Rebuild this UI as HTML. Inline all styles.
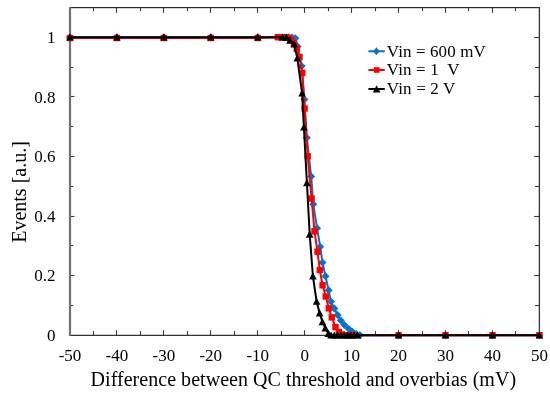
<!DOCTYPE html>
<html><head><meta charset="utf-8"><style>html,body{margin:0;padding:0;background:#fff;width:550px;height:395px;overflow:hidden}svg{display:block}</style></head><body>
<svg width="550" height="395" viewBox="0 0 550 395">
<rect width="550" height="395" fill="#fff"/>
<g stroke="#3a3a3a" stroke-width="1.1"><line x1="93.5" y1="335" x2="93.5" y2="331.1"/><line x1="93.5" y1="8" x2="93.5" y2="11.1"/><line x1="116.5" y1="335" x2="116.5" y2="330.2"/><line x1="116.5" y1="8" x2="116.5" y2="12.9"/><line x1="140.5" y1="335" x2="140.5" y2="331.1"/><line x1="140.5" y1="8" x2="140.5" y2="11.1"/><line x1="163.5" y1="335" x2="163.5" y2="330.2"/><line x1="163.5" y1="8" x2="163.5" y2="12.9"/><line x1="187.5" y1="335" x2="187.5" y2="331.1"/><line x1="187.5" y1="8" x2="187.5" y2="11.1"/><line x1="210.5" y1="335" x2="210.5" y2="330.2"/><line x1="210.5" y1="8" x2="210.5" y2="12.9"/><line x1="234.5" y1="335" x2="234.5" y2="331.1"/><line x1="234.5" y1="8" x2="234.5" y2="11.1"/><line x1="257.5" y1="335" x2="257.5" y2="330.2"/><line x1="257.5" y1="8" x2="257.5" y2="12.9"/><line x1="281.5" y1="335" x2="281.5" y2="331.1"/><line x1="281.5" y1="8" x2="281.5" y2="11.1"/><line x1="304.5" y1="335" x2="304.5" y2="330.2"/><line x1="304.5" y1="8" x2="304.5" y2="12.9"/><line x1="328.5" y1="335" x2="328.5" y2="331.1"/><line x1="328.5" y1="8" x2="328.5" y2="11.1"/><line x1="351.5" y1="335" x2="351.5" y2="330.2"/><line x1="351.5" y1="8" x2="351.5" y2="12.9"/><line x1="375.5" y1="335" x2="375.5" y2="331.1"/><line x1="375.5" y1="8" x2="375.5" y2="11.1"/><line x1="398.5" y1="335" x2="398.5" y2="330.2"/><line x1="398.5" y1="8" x2="398.5" y2="12.9"/><line x1="422.5" y1="335" x2="422.5" y2="331.1"/><line x1="422.5" y1="8" x2="422.5" y2="11.1"/><line x1="445.5" y1="335" x2="445.5" y2="330.2"/><line x1="445.5" y1="8" x2="445.5" y2="12.9"/><line x1="468.5" y1="335" x2="468.5" y2="331.1"/><line x1="468.5" y1="8" x2="468.5" y2="11.1"/><line x1="492.5" y1="335" x2="492.5" y2="330.2"/><line x1="492.5" y1="8" x2="492.5" y2="12.9"/><line x1="515.5" y1="335" x2="515.5" y2="331.1"/><line x1="515.5" y1="8" x2="515.5" y2="11.1"/><line x1="70" y1="305.5" x2="73.3" y2="305.5"/><line x1="539" y1="305.5" x2="535.1" y2="305.5"/><line x1="70" y1="275.5" x2="74.4" y2="275.5"/><line x1="539" y1="275.5" x2="534.1" y2="275.5"/><line x1="70" y1="245.5" x2="73.3" y2="245.5"/><line x1="539" y1="245.5" x2="535.1" y2="245.5"/><line x1="70" y1="216.5" x2="74.4" y2="216.5"/><line x1="539" y1="216.5" x2="534.1" y2="216.5"/><line x1="70" y1="186.5" x2="73.3" y2="186.5"/><line x1="539" y1="186.5" x2="535.1" y2="186.5"/><line x1="70" y1="156.5" x2="74.4" y2="156.5"/><line x1="539" y1="156.5" x2="534.1" y2="156.5"/><line x1="70" y1="126.5" x2="73.3" y2="126.5"/><line x1="539" y1="126.5" x2="535.1" y2="126.5"/><line x1="70" y1="96.5" x2="74.4" y2="96.5"/><line x1="539" y1="96.5" x2="534.1" y2="96.5"/><line x1="70" y1="67.5" x2="73.3" y2="67.5"/><line x1="539" y1="67.5" x2="535.1" y2="67.5"/><line x1="70" y1="37.5" x2="74.4" y2="37.5"/><line x1="539" y1="37.5" x2="534.1" y2="37.5"/></g>
<rect x="70" y="7" width="470" height="1.2" fill="#2a2a2a"/>
<line x1="539.4" y1="7.3" x2="539.4" y2="335.4" stroke="#333" stroke-width="1.3"/>
<line x1="70" y1="335.4" x2="539.4" y2="335.4" stroke="#333" stroke-width="1.3"/>
<line x1="70" y1="7.1" x2="70" y2="336" stroke="#707070" stroke-width="2.2"/>
<path d="M70.0 37.2 L116.9 37.2 L163.9 37.2 L210.8 37.2 L257.8 37.2 L285.0 37.2 L288.5 37.3 L292.0 37.5 L295.3 38.3 L297.6 46.5 L301.6 66.0 L304.4 99.5 L306.8 137.7 L311.2 176.6 L313.3 204.3 L317.1 228.3 L320.2 246.7 L322.5 262.4 L325.5 276.3 L328.6 290.2 L331.0 301.5 L334.4 308.6 L337.6 315.0 L340.8 320.5 L344.3 325.0 L348.6 328.7 L352.4 331.7 L356.2 334.0 L360.0 335.2 L398.6 335.2 L445.5 335.2 L492.5 335.2 L539.4 335.2" fill="none" stroke="#0a71c6" stroke-width="2.0" stroke-linejoin="round"/>
<g fill="#0a71c6"><path d="M70.0 33.2L74.0 37.2L70.0 41.2L66.0 37.2Z"/><path d="M116.9 33.2L120.9 37.2L116.9 41.2L112.9 37.2Z"/><path d="M163.9 33.2L167.9 37.2L163.9 41.2L159.9 37.2Z"/><path d="M210.8 33.2L214.8 37.2L210.8 41.2L206.8 37.2Z"/><path d="M257.8 33.2L261.8 37.2L257.8 41.2L253.8 37.2Z"/><path d="M285.0 33.2L289.0 37.2L285.0 41.2L281.0 37.2Z"/><path d="M288.5 33.3L292.5 37.3L288.5 41.3L284.5 37.3Z"/><path d="M292.0 33.5L296.0 37.5L292.0 41.5L288.0 37.5Z"/><path d="M295.3 34.3L299.3 38.3L295.3 42.3L291.3 38.3Z"/><path d="M297.6 42.5L301.6 46.5L297.6 50.5L293.6 46.5Z"/><path d="M301.6 62.0L305.6 66.0L301.6 70.0L297.6 66.0Z"/><path d="M304.4 95.5L308.4 99.5L304.4 103.5L300.4 99.5Z"/><path d="M306.8 133.7L310.8 137.7L306.8 141.7L302.8 137.7Z"/><path d="M311.2 172.6L315.2 176.6L311.2 180.6L307.2 176.6Z"/><path d="M313.3 200.3L317.3 204.3L313.3 208.3L309.3 204.3Z"/><path d="M317.1 224.3L321.1 228.3L317.1 232.3L313.1 228.3Z"/><path d="M320.2 242.7L324.2 246.7L320.2 250.7L316.2 246.7Z"/><path d="M322.5 258.4L326.5 262.4L322.5 266.4L318.5 262.4Z"/><path d="M325.5 272.3L329.5 276.3L325.5 280.3L321.5 276.3Z"/><path d="M328.6 286.2L332.6 290.2L328.6 294.2L324.6 290.2Z"/><path d="M331.0 297.5L335.0 301.5L331.0 305.5L327.0 301.5Z"/><path d="M334.4 304.6L338.4 308.6L334.4 312.6L330.4 308.6Z"/><path d="M337.6 311.0L341.6 315.0L337.6 319.0L333.6 315.0Z"/><path d="M340.8 316.5L344.8 320.5L340.8 324.5L336.8 320.5Z"/><path d="M344.3 321.0L348.3 325.0L344.3 329.0L340.3 325.0Z"/><path d="M348.6 324.7L352.6 328.7L348.6 332.7L344.6 328.7Z"/><path d="M352.4 327.7L356.4 331.7L352.4 335.7L348.4 331.7Z"/><path d="M356.2 330.0L360.2 334.0L356.2 338.0L352.2 334.0Z"/><path d="M360.0 331.2L364.0 335.2L360.0 339.2L356.0 335.2Z"/><path d="M398.6 331.2L402.6 335.2L398.6 339.2L394.6 335.2Z"/><path d="M445.5 331.2L449.5 335.2L445.5 339.2L441.5 335.2Z"/><path d="M492.5 331.2L496.5 335.2L492.5 339.2L488.5 335.2Z"/><path d="M539.4 331.2L543.4 335.2L539.4 339.2L535.4 335.2Z"/></g>
<path d="M70.0 38.0 L116.9 38.0 L163.9 38.0 L210.8 38.0 L257.8 38.0 L277.8 37.2 L281.0 37.3 L284.6 37.4 L288.3 37.9 L291.2 40.0 L294.0 43.5 L296.8 49.0 L299.5 57.0 L302.3 73.0 L304.6 108.5 L307.7 156.3 L311.6 198.5 L314.5 231.3 L317.5 251.7 L319.8 270.0 L322.6 285.3 L325.8 296.5 L328.8 308.3 L331.8 317.4 L335.5 327.0 L338.8 332.0 L342.0 334.5 L345.5 335.2 L349.0 335.2 L352.5 335.2 L398.6 335.2 L445.5 335.2 L492.5 335.2 L539.4 335.2" fill="none" stroke="#ff0000" stroke-width="2.0" stroke-linejoin="round"/>
<g fill="#ff0000"><rect x="66.8" y="34.8" width="6.4" height="6.4"/><rect x="113.7" y="34.8" width="6.4" height="6.4"/><rect x="160.7" y="34.8" width="6.4" height="6.4"/><rect x="207.6" y="34.8" width="6.4" height="6.4"/><rect x="254.6" y="34.8" width="6.4" height="6.4"/><rect x="274.6" y="34.0" width="6.4" height="6.4"/><rect x="277.8" y="34.1" width="6.4" height="6.4"/><rect x="281.4" y="34.2" width="6.4" height="6.4"/><rect x="285.1" y="34.7" width="6.4" height="6.4"/><rect x="288.0" y="36.8" width="6.4" height="6.4"/><rect x="290.8" y="40.3" width="6.4" height="6.4"/><rect x="293.6" y="45.8" width="6.4" height="6.4"/><rect x="296.3" y="53.8" width="6.4" height="6.4"/><rect x="299.1" y="69.8" width="6.4" height="6.4"/><rect x="301.4" y="105.3" width="6.4" height="6.4"/><rect x="304.5" y="153.1" width="6.4" height="6.4"/><rect x="308.4" y="195.3" width="6.4" height="6.4"/><rect x="311.3" y="228.1" width="6.4" height="6.4"/><rect x="314.3" y="248.5" width="6.4" height="6.4"/><rect x="316.6" y="266.8" width="6.4" height="6.4"/><rect x="319.4" y="282.1" width="6.4" height="6.4"/><rect x="322.6" y="293.3" width="6.4" height="6.4"/><rect x="325.6" y="305.1" width="6.4" height="6.4"/><rect x="328.6" y="314.2" width="6.4" height="6.4"/><rect x="332.3" y="323.8" width="6.4" height="6.4"/><rect x="335.6" y="328.8" width="6.4" height="6.4"/><rect x="338.8" y="331.3" width="6.4" height="6.4"/><rect x="342.3" y="332.0" width="6.4" height="6.4"/><rect x="345.8" y="332.0" width="6.4" height="6.4"/><rect x="349.3" y="332.0" width="6.4" height="6.4"/><rect x="395.4" y="332.0" width="6.4" height="6.4"/><rect x="442.3" y="332.0" width="6.4" height="6.4"/><rect x="489.3" y="332.0" width="6.4" height="6.4"/><rect x="536.2" y="332.0" width="6.4" height="6.4"/></g>
<path d="M70.0 37.2 L116.9 37.2 L163.9 37.2 L210.8 37.2 L257.8 37.2 L282.6 37.2 L286.3 37.4 L290.0 40.3 L294.2 44.2 L297.3 58.0 L302.1 93.0 L303.9 127.2 L306.9 182.8 L309.7 234.3 L312.9 276.0 L316.6 301.4 L319.6 313.0 L322.4 321.8 L325.3 328.0 L328.4 333.5 L331.0 335.2 L334.3 335.2 L337.6 335.2 L340.9 335.2 L344.2 335.2 L347.5 335.2 L350.8 335.2 L354.1 335.2 L357.4 335.2 L398.6 335.2 L445.5 335.2 L492.5 335.2 L539.4 335.2" fill="none" stroke="#000000" stroke-width="2.0" stroke-linejoin="round"/>
<g fill="#000000"><path d="M70.0 33.5L73.8 40.6L66.2 40.6Z"/><path d="M116.9 33.5L120.7 40.6L113.1 40.6Z"/><path d="M163.9 33.5L167.7 40.6L160.1 40.6Z"/><path d="M210.8 33.5L214.6 40.6L207.0 40.6Z"/><path d="M257.8 33.5L261.6 40.6L254.0 40.6Z"/><path d="M282.6 33.5L286.4 40.6L278.8 40.6Z"/><path d="M286.3 33.7L290.1 40.8L282.5 40.8Z"/><path d="M290.0 36.6L293.8 43.7L286.2 43.7Z"/><path d="M294.2 40.5L298.0 47.6L290.4 47.6Z"/><path d="M297.3 54.3L301.1 61.4L293.5 61.4Z"/><path d="M302.1 89.3L305.9 96.4L298.3 96.4Z"/><path d="M303.9 123.5L307.7 130.6L300.1 130.6Z"/><path d="M306.9 179.1L310.7 186.2L303.1 186.2Z"/><path d="M309.7 230.6L313.5 237.7L305.9 237.7Z"/><path d="M312.9 272.3L316.7 279.4L309.1 279.4Z"/><path d="M316.6 297.7L320.4 304.8L312.8 304.8Z"/><path d="M319.6 309.3L323.4 316.4L315.8 316.4Z"/><path d="M322.4 318.1L326.2 325.2L318.6 325.2Z"/><path d="M325.3 324.3L329.1 331.4L321.5 331.4Z"/><path d="M328.4 329.8L332.2 336.9L324.6 336.9Z"/><path d="M331.0 331.5L334.8 338.6L327.2 338.6Z"/><path d="M334.3 331.5L338.1 338.6L330.5 338.6Z"/><path d="M337.6 331.5L341.4 338.6L333.8 338.6Z"/><path d="M340.9 331.5L344.7 338.6L337.1 338.6Z"/><path d="M344.2 331.5L348.0 338.6L340.4 338.6Z"/><path d="M347.5 331.5L351.3 338.6L343.7 338.6Z"/><path d="M350.8 331.5L354.6 338.6L347.0 338.6Z"/><path d="M354.1 331.5L357.9 338.6L350.3 338.6Z"/><path d="M357.4 331.5L361.2 338.6L353.6 338.6Z"/><path d="M398.6 331.5L402.4 338.6L394.8 338.6Z"/><path d="M445.5 331.5L449.3 338.6L441.7 338.6Z"/><path d="M492.5 331.5L496.3 338.6L488.7 338.6Z"/><path d="M539.4 331.5L543.2 338.6L535.6 338.6Z"/></g>
<g font-family="Liberation Serif, Times New Roman, serif" font-size="17" fill="#000"><text x="70.0" y="360.7" text-anchor="middle">-50</text><text x="116.9" y="360.7" text-anchor="middle">-40</text><text x="163.9" y="360.7" text-anchor="middle">-30</text><text x="210.8" y="360.7" text-anchor="middle">-20</text><text x="257.8" y="360.7" text-anchor="middle">-10</text><text x="304.7" y="360.7" text-anchor="middle">0</text><text x="351.6" y="360.7" text-anchor="middle">10</text><text x="398.6" y="360.7" text-anchor="middle">20</text><text x="445.5" y="360.7" text-anchor="middle">30</text><text x="492.5" y="360.7" text-anchor="middle">40</text><text x="539.4" y="360.7" text-anchor="middle">50</text><text x="55.6" y="341.0" text-anchor="end">0</text><text x="55.6" y="281.4" text-anchor="end">0.2</text><text x="55.6" y="221.8" text-anchor="end">0.4</text><text x="55.6" y="162.2" text-anchor="end">0.6</text><text x="55.6" y="102.6" text-anchor="end">0.8</text><text x="55.6" y="43.0" text-anchor="end">1</text></g>
<text font-family="Liberation Serif, Times New Roman, serif" font-size="20" x="90.6" y="385.6" textLength="425.5" lengthAdjust="spacing">Difference between QC threshold and overbias (mV)</text>
<text font-family="Liberation Serif, Times New Roman, serif" font-size="20" transform="translate(25.9 242.8) rotate(-90)">Events [a.u.]</text>
<line x1="368.4" y1="51.3" x2="384.8" y2="51.3" stroke="#0a71c6" stroke-width="2.0"/>
<g fill="#0a71c6"><path d="M376.4 47.3L379.6 51.3L376.4 55.3L373.2 51.3Z"/></g>
<text font-family="Liberation Serif, Times New Roman, serif" font-size="17" x="386.8" y="56.6" textLength="99.0" lengthAdjust="spacing" xml:space="preserve" style="white-space:pre">Vin = 600 mV</text>
<line x1="368.4" y1="70.0" x2="384.8" y2="70.0" stroke="#ff0000" stroke-width="2.0"/>
<g fill="#ff0000"><rect x="374" y="67.2" width="5.6" height="5.6"/></g>
<text font-family="Liberation Serif, Times New Roman, serif" font-size="17" x="386.8" y="75.2" textLength="72.8" lengthAdjust="spacing" xml:space="preserve" style="white-space:pre">Vin = 1  V</text>
<line x1="368.4" y1="89.0" x2="384.8" y2="89.0" stroke="#000000" stroke-width="2.0"/>
<g fill="#000000"><path d="M376.6 85.3L380.4 92.4L372.8 92.4Z"/></g>
<text font-family="Liberation Serif, Times New Roman, serif" font-size="17" x="386.8" y="93.9" textLength="68.5" lengthAdjust="spacing" xml:space="preserve" style="white-space:pre">Vin = 2 V</text>
</svg>
</body></html>
